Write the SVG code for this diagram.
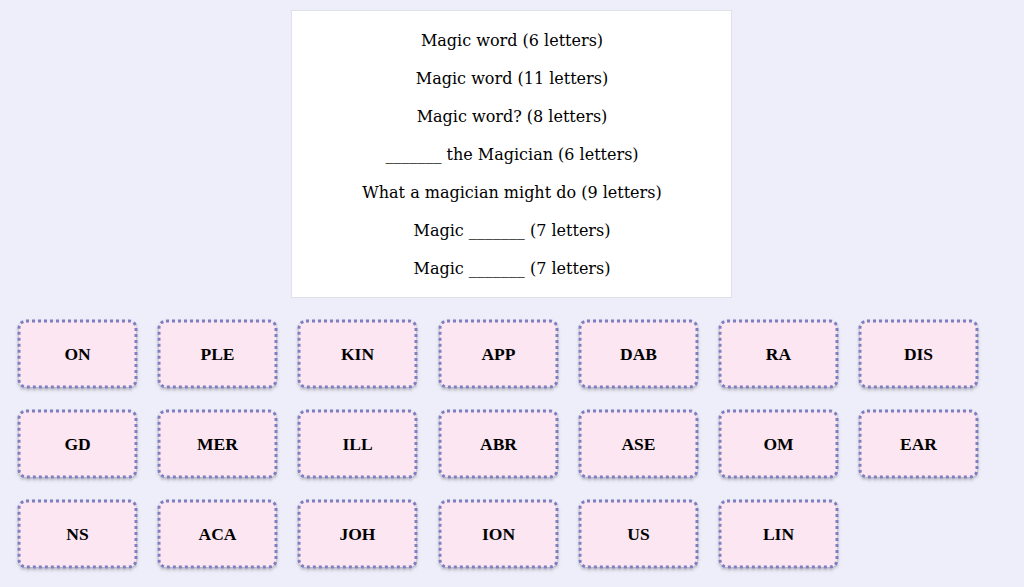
<svg xmlns="http://www.w3.org/2000/svg" width="1024" height="587" viewBox="0 0 1024 587">
<defs>
<style>
.t{font-family:"Liberation Serif",serif;font-weight:bold;font-size:17.5px;text-anchor:middle;fill:#000}
.c{font-family:"DejaVu Serif","Liberation Serif",serif;font-size:16px;text-anchor:middle;fill:#000}
.b{fill:#fbe6f2;stroke:#7f7fbf;stroke-width:3;stroke-dasharray:3 3}
</style>
<filter id="s" x="-10%" y="-10%" width="120%" height="130%"><feDropShadow dx="0" dy="2" stdDeviation="1.5" flood-color="#000" flood-opacity="0.25"/></filter>
<symbol id="tile" overflow="visible"><rect class="b" x="0" y="0" width="117" height="66" rx="7" filter="url(#s)"/></symbol>
</defs>
<rect width="1024" height="587" fill="#eeeefa"/>
<g id="clues">
<rect x="291.5" y="10.5" width="440" height="287" fill="#fff" stroke="#e0e0ea"/>
<text class="c" x="512" y="46">Magic word (6 letters)</text>
<text class="c" x="512" y="84">Magic word (11 letters)</text>
<text class="c" x="512" y="122">Magic word? (8 letters)</text>
<text class="c" x="512" y="160">_______ the Magician (6 letters)</text>
<text class="c" x="512" y="198">What a magician might do (9 letters)</text>
<text class="c" x="512" y="236">Magic _______ (7 letters)</text>
<text class="c" x="512" y="274">Magic _______ (7 letters)</text>
</g>
<g id="connectors"/>
<g id="t1"><use href="#tile" x="19" y="321"/><text class="t" x="77.5" y="360">ON</text></g>
<g id="t2"><use href="#tile" x="159" y="321"/><text class="t" x="217.5" y="360">PLE</text></g>
<g id="t3"><use href="#tile" x="299" y="321"/><text class="t" x="357.5" y="360">KIN</text></g>
<g id="t4"><use href="#tile" x="440" y="321"/><text class="t" x="498.5" y="360">APP</text></g>
<g id="t5"><use href="#tile" x="580" y="321"/><text class="t" x="638.5" y="360">DAB</text></g>
<g id="t6"><use href="#tile" x="720" y="321"/><text class="t" x="778.5" y="360">RA</text></g>
<g id="t7"><use href="#tile" x="860" y="321"/><text class="t" x="918.5" y="360">DIS</text></g>
<g id="t8"><use href="#tile" x="19" y="411"/><text class="t" x="77.5" y="450">GD</text></g>
<g id="t9"><use href="#tile" x="159" y="411"/><text class="t" x="217.5" y="450">MER</text></g>
<g id="t10"><use href="#tile" x="299" y="411"/><text class="t" x="357.5" y="450">ILL</text></g>
<g id="t11"><use href="#tile" x="440" y="411"/><text class="t" x="498.5" y="450">ABR</text></g>
<g id="t12"><use href="#tile" x="580" y="411"/><text class="t" x="638.5" y="450">ASE</text></g>
<g id="t13"><use href="#tile" x="720" y="411"/><text class="t" x="778.5" y="450">OM</text></g>
<g id="t14"><use href="#tile" x="860" y="411"/><text class="t" x="918.5" y="450">EAR</text></g>
<g id="t15"><use href="#tile" x="19" y="501"/><text class="t" x="77.5" y="540">NS</text></g>
<g id="t16"><use href="#tile" x="159" y="501"/><text class="t" x="217.5" y="540">ACA</text></g>
<g id="t17"><use href="#tile" x="299" y="501"/><text class="t" x="357.5" y="540">JOH</text></g>
<g id="t18"><use href="#tile" x="440" y="501"/><text class="t" x="498.5" y="540">ION</text></g>
<g id="t19"><use href="#tile" x="580" y="501"/><text class="t" x="638.5" y="540">US</text></g>
<g id="t20"><use href="#tile" x="720" y="501"/><text class="t" x="778.5" y="540">LIN</text></g>
</svg>
